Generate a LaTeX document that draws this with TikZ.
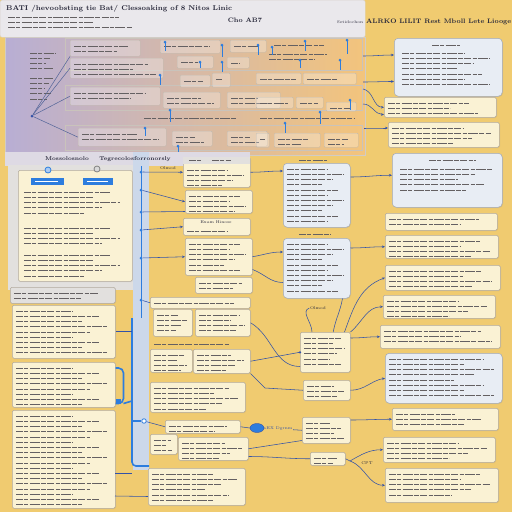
\documentclass[tikz,border=0pt]{standalone}
\usetikzlibrary{shapes.geometric, arrows.meta, positioning, calc, shadows}

\definecolor{bgyellow}{RGB}{240,203,112}
\definecolor{cream}{RGB}{250,242,212}
\definecolor{paleblue}{RGB}{232,237,244}
\definecolor{palegray}{RGB}{160,168,182}
\definecolor{framegray}{RGB}{178,170,158}
\definecolor{cardgray}{RGB}{226,224,222}
\definecolor{headgray}{RGB}{234,232,236}
\definecolor{stripgray}{RGB}{222,218,228}
\definecolor{inkgray}{RGB}{100,96,98}
\definecolor{headink}{RGB}{40,40,58}
\definecolor{inkblue}{RGB}{50,82,168}
\definecolor{brightblue}{RGB}{45,125,222}
\definecolor{barblue}{RGB}{204,216,234}
\definecolor{panelpurple}{RGB}{184,174,212}
\definecolor{panelorange}{RGB}{243,196,124}
\tikzstyle{wirearrow} = [draw=inkblue, line width=0.55pt, -{Stealth[length=3pt,width=2.6pt]}]

% card with fake text lines: [style]{name}{x}{y}{w}{h}{lines}
\newcommand{\card}[7][card]{%
  \node[#1, minimum width=#5, minimum height=#6, anchor=north west] (#2) at (#3,#4) {};
  \foreach \idx in {1,...,#7} {
    \pgfmathsetmacro{\lw}{(#5-8)*(0.6+0.09*mod(\idx*3+#3,5))}
    \draw[ink] ($(#2.north west)+(4,1+5.2*\idx)$) -- ++(\lw,0);
  }%
}

\begin{document}
\begin{tikzpicture}[
    x=1pt, y=-1pt,
    card/.style={draw=framegray, fill=cream, rounded corners=1.5pt, line width=0.5pt, inner sep=0pt,
                 drop shadow={opacity=0.15, shadow xshift=0.8pt, shadow yshift=-0.8pt}},
    pale/.style={card, fill=paleblue, draw=palegray, rounded corners=4pt},
    gcard/.style={card, fill=cardgray},
    pcard/.style={draw=framegray!80, fill=white, fill opacity=0.28, rounded corners=1pt, line width=0.4pt, inner sep=0pt},
    frame/.style={draw=framegray!70, line width=0.4pt, inner sep=0pt},
    ghost/.style={inner sep=0pt},
    ink/.style={line width=0.95pt, draw=inkgray, dash pattern=on 7pt off 1.3pt on 4pt off 1.3pt on 10pt off 1.3pt on 5pt off 1.3pt},
    wire/.style={draw=inkblue, line width=0.55pt},
    fanline/.style={draw=inkblue!60!gray, line width=0.5pt},
    thickwire/.style={draw=brightblue, line width=1.6pt},
    pin/.style={draw=brightblue, line width=0.8pt},
    dot/.style={circle, fill=brightblue, inner sep=0pt, minimum size=3pt},
    ring/.style={circle, draw=brightblue, fill=white, line width=0.8pt, inner sep=0pt, minimum size=4.5pt},
    tab/.style={fill=brightblue, inner sep=0pt, minimum width=33, minimum height=7},
    blob/.style={ellipse, fill=brightblue, draw=inkblue, inner sep=0pt, minimum width=14, minimum height=9},
    titletext/.style={font=\fontsize{7}{8}\selectfont\bfseries, text=headink, inner sep=0pt},
    headtext/.style={font=\fontsize{6.5}{7}\selectfont\bfseries, text=headink, inner sep=0pt},
    tinytext/.style={font=\fontsize{4}{4.5}\selectfont, text=headink, inner sep=0.5pt}
]
    \useasboundingbox (0,0) rectangle (512,512);
    \fill[bgyellow] (0,0) rectangle (512,512);

    % Header
    \node[fill=headgray, draw=framegray!50, anchor=north west, minimum width=365, minimum height=37,
          inner sep=0pt, rounded corners=2pt] (header) at (0,0) {};
    \node[titletext, anchor=west] (title) at (6,8.5) {BATI /hevoobsting tie Bat/ Clessoaking of 8 Nitos Linic};
    \card[ghost]{hsub}{4}{11}{150}{20}{3}
    \node[headtext] (cho) at (245,20) {Cho AB7};
    \node[tinytext] (setid) at (350,22) {Setidochon};
    \node[headtext, anchor=west] (alrko) at (366,22) {ALRKO LILIT Rest Mboll Lete Liooge};

    % Gradient panel
    \node[anchor=north west, minimum width=360, minimum height=118, inner sep=0pt, draw=framegray!60,
          left color=panelpurple, right color=panelorange] (panel) at (5,37) {};
    \node[frame, anchor=north west, minimum width=297, minimum height=32] (row1) at (65,38) {};
    \node[frame, anchor=north west, minimum width=297, minimum height=25] (row2) at (65,85) {};
    \node[frame, anchor=north west, minimum width=297, minimum height=25] (row3) at (65,125) {};
    \card[ghost]{pl1}{26}{47}{34}{24}{4}
    \card[ghost]{pl2}{26}{72}{32}{30}{5}
    \card[pcard]{p1}{70}{40}{70}{16}{2}
    \card[pcard]{p2}{70}{58}{93}{20}{3}
    \card[pcard]{p3}{70}{87}{90}{18}{2}
    \card[ghost]{p4}{140}{112}{115}{9}{1}
    \card[pcard]{p5}{78}{128}{88}{18}{2}
    \card[pcard]{p6}{160}{40}{60}{13}{1}
    \card[pcard]{p7}{177}{56}{36}{12}{1}
    \card[pcard]{p8}{227}{57}{22}{11}{1}
    \card[pcard]{p9}{180}{75}{30}{12}{1}
    \card[pcard]{p10}{212}{73}{18}{14}{1}
    \card[pcard]{p11}{163}{92}{57}{16}{2}
    \card[pcard]{p12}{227}{92}{53}{16}{2}
    \card[pcard]{p13}{172}{131}{40}{15}{2}
    \card[pcard]{p14}{227}{131}{40}{15}{2}
    \card[pcard]{p15}{230}{40}{36}{12}{1}
    \card[ghost]{p16}{270}{39}{65}{8}{1}
    \card[ghost]{p17}{265}{48}{75}{12}{2}
    \card[pcard]{p18}{256}{73}{45}{11}{1}
    \card[pcard]{p19}{303}{73}{53}{11}{1}
    \card[pcard]{p20}{256}{97}{37}{11}{1}
    \card[pcard]{p21}{296}{97}{27}{11}{1}
    \card[pcard]{p22}{326}{102}{30}{9}{1}
    \card[ghost]{p23}{256}{112}{107}{9}{1}
    \card[pcard]{p24}{256}{133}{13}{14}{1}
    \card[pcard]{p25}{274}{133}{46}{14}{2}
    \card[pcard]{p26}{324}{133}{34}{14}{2}

    % Pins in the panel
    \foreach \px/\py/\pl [count=\i] in {165/42/9, 222/45/12, 258/45/10, 272/47/8, 305/41/10, 347/40/14,
        300/60/8, 222/62/10, 160/75/10, 170/110/12, 285/123/10, 320/112/12, 350/100/10, 178/146/10,
        145/128/8, 200/62/6, 340/60/10} {
        \coordinate (pa\i) at (\px,\py);
        \coordinate (pb\i) at (\px,\py+\pl);
        \draw[pin] (pa\i) -- (pb\i);
        \node[dot] (pd\i) at (pa\i) {};
    }
    \node[dot, fill=inkblue] (fan) at (32,116) {};
    \foreach \t in {p1.south west, p2.west, p3.west, p5.west}
        \draw[fanline] (fan) -- (\t);

    % Strip under the panel
    \node[fill=stripgray, anchor=north west, minimum width=245, minimum height=14, inner sep=0pt] (strip) at (5,152) {};

    % Left column
    \node[fill=cardgray, anchor=north west, minimum width=127, minimum height=125, inner sep=0pt] (lgray) at (8,165) {};
    \node[card, anchor=north west, minimum width=114, minimum height=111] (l1) at (18,170) {};
    \node[tab] (tab1) at (47,181.5) {};
    \node[tab, minimum width=30] (tab2) at (98,181.5) {};
    \draw[white, line width=0.8pt] ($(tab1.west)+(5,0)$) -- ($(tab1.east)+(-6,0)$);
    \draw[white, line width=0.8pt] ($(tab2.west)+(4,0)$) -- ($(tab2.east)+(-5,0)$);
    \node[ring, minimum size=6pt, fill=brightblue!40] (pin1) at (48,170) {};
    \node[ring, minimum size=6pt, draw=gray, fill=gray!30] (pin2) at (97,169) {};
    \card[ghost]{l1a}{20}{186}{108}{28}{5}
    \card[ghost]{l1b}{20}{222}{108}{24}{4}
    \card[ghost]{l1c}{20}{249}{108}{32}{5}
    \card[gcard]{l2}{10}{287}{105}{16}{2}
    \card{l3}{12}{305}{103}{53}{9}
    \card{l4}{12}{362}{103}{45}{8}
    \card{l5}{12}{410}{103}{98}{18}

    % Blue bar and spine
    \node[fill=barblue, anchor=north west, minimum width=16, minimum height=318, inner sep=0pt] (bar) at (133,152) {};
    \coordinate (bt) at (141,166);
    \coordinate (bb) at (141,318);
    \draw[pin] (bt) -- (bb);
    \foreach \y [count=\i] in {172,190,212,230,258,300}
        \node[dot] (b\i) at (141,\y) {};
    \coordinate (s1) at (132,318);
    \coordinate (s3) at (149,466);
    \draw[thickwire, rounded corners=4pt] (s1) |- (s3);
    \draw[thickwire, rounded corners=5pt] ($(l4.north east)+(0,6)$) -| ($(l4.east)+(8,0)$) |- ($(l4.south east)+(0,-4)$);
    \node[fill=brightblue, inner sep=0pt, minimum size=5pt] (sq1) at (118,401) {};
    \draw[thickwire] ($(l4.south east)+(8,-4)$) -- (s1 |- sq1);
    \node[ring] (ring) at (144,421) {};
    \draw[thickwire] (s1 |- ring) -- (ring);
    \draw[wire] (l3.east) -- (s1 |- l3.east);
    \coordinate (c1) at (115,473);
    \coordinate (c2) at (115,496);
    \draw[wire, line width=0.9pt] (c1) -- (s1 |- c1);

    % Strip headings
    \node[headtext, font=\fontsize{5.5}{6}\selectfont\bfseries] (mosso) at (67,159) {Mossolosnolo};
    \node[headtext, font=\fontsize{5.5}{6}\selectfont\bfseries] (tegre) at (135,159) {Tegrecolosforronorsly};
    \node[tinytext] (olmod1) at (168,168) {Olmod};

    % Middle column
    \node[card, anchor=north west, minimum width=67, minimum height=30] (m1) at (183,157) {};
    \node[fill=cardgray, anchor=north west, minimum width=67, minimum height=7, inner sep=0pt] (m1h) at (183,157) {};
    \card[ghost]{m1ha}{185}{154}{22}{8}{1}
    \card[ghost]{m1hb}{208}{154}{36}{8}{1}
    \card[ghost]{m1t}{183}{164}{67}{23}{4}
    \card{m2}{185}{190}{67}{23}{4}
    \node[card, anchor=north west, minimum width=67, minimum height=17] (m3) at (183,218) {};
    \node[tinytext] (exam) at (216,222.5) {Exam Hinose};
    \card[ghost]{m3t}{183}{225}{67}{10}{1}
    \card{m4}{185}{238}{67}{37}{6}
    \card{m5}{195}{277}{57}{16}{2}
    \card{m10}{150}{297}{100}{11}{1}
    \card{m11}{153}{309}{39}{27}{4}
    \card{m12}{195}{309}{55}{27}{4}
    \card[ghost]{m13}{150}{338}{95}{8}{1}
    \card{m14}{150}{349}{42}{23}{4}
    \card{m15}{193}{349}{57}{24}{4}
    \card{m16}{150}{382}{95}{30}{5}
    \card{m17}{165}{420}{75}{13}{2}
    \card{m18}{150}{434}{27}{20}{3}
    \card{m19}{178}{437}{70}{23}{4}
    \card{m20}{148}{468}{97}{37}{6}

    \card[ghost]{m6h}{295}{154}{40}{8}{1}
    \card[pale]{m6}{283}{163}{67}{64}{11}
    \card[ghost]{m7h}{295}{228}{45}{8}{1}
    \card[pale]{m7}{283}{238}{67}{60}{10}
    \node[tinytext] (olmod2) at (318,308) {Olmod};
    \card{m8}{300}{332}{50}{40}{6}
    \card{m9}{303}{380}{47}{20}{3}
    \card{m21}{302}{417}{48}{26}{4}
    \card{m22}{310}{452}{35}{13}{2}
    \node[blob] (blob) at (257,428) {};

    % Right column
    \node[pale, anchor=north west, minimum width=108, minimum height=58] (r1) at (394,38) {};
    \card[ghost]{r1h}{428}{39}{48}{8}{1}
    \card[ghost]{r1t}{398}{47}{100}{44}{7}
    \card{r2}{384}{97}{112}{20}{3}
    \card{r3}{388}{122}{111}{25}{4}
    \node[pale, anchor=north west, minimum width=110, minimum height=54] (r4) at (392,153) {};
    \card[ghost]{r4h}{425}{154}{62}{8}{1}
    \card[ghost]{r4t}{396}{163}{104}{32}{5}
    \card{r5}{385}{213}{112}{17}{2}
    \card{r6}{385}{235}{113}{23}{4}
    \card{r7}{385}{265}{115}{25}{4}
    \card{r8}{383}{295}{112}{23}{4}
    \card{r9}{380}{325}{120}{23}{3}
    \card[pale]{r10}{385}{353}{117}{50}{8}
    \card{r11}{392}{408}{106}{22}{3}
    \card{r12}{383}{437}{112}{25}{4}
    \card{r13}{385}{468}{113}{34}{5}

    % Panel to right column
    \coordinate (pe1) at (363,56);
    \coordinate (pe2) at (363,82);
    \coordinate (pe3) at (363,89);
    \coordinate (pe4) at (363,104);
    \coordinate (pe5) at (364,128);
    \draw[wirearrow] (pe1) to[out=0,in=180] ($(r1.north west)+(0,17)$);
    \draw[wirearrow] (pe2) to[out=0,in=180] ($(r1.south west)+(0,-15)$);
    \draw[wirearrow] (pe3) to[out=-10,in=180] (r2.west);
    \draw[wirearrow] (pe4) to[out=0,in=180] ($(r2.south west)+(0,-3)$);
    \draw[wirearrow] (pe5) to[out=0,in=180] ($(r3.north west)+(0,6)$);

    % Bar to middle
    \draw[wirearrow] (b1) -- (m1.west);
    \draw[wirearrow] (b2) -- (m2.west);
    \draw[wire] (b3) -- ($(m2.south west)+(0,-2)$);
    \draw[wirearrow] (b4) -- (m3.west);
    \draw[wirearrow] (b5) -- (m4.west);
    \draw[wire] (b6) -- (m10.west);
    \draw[wire] (ring) -- (m17.west);
    \draw[wire] (c2) -- ($(m20.south west)+(0,-9)$);

    % Middle to right
    \draw[wirearrow] (m1.east) to[out=0,in=180] ($(m6.north west)+(0,8)$);
    \draw[wirearrow] (m4.east) to[out=10,in=180] ($(m7.north west)+(0,14)$);
    \draw[wire] ($(m4.south east)+(0,-6)$) to[out=-20,in=180] ($(m7.south west)+(0,-16)$);
    \draw[wirearrow] ($(m6.north east)+(0,14)$) to[out=0,in=180] ($(r4.west)+(0,-5)$);
    \draw[wirearrow] ($(m7.north east)+(0,10)$) to[out=0,in=180] (r6.west);
    \draw[wirearrow] ($(m8.north east)+(-6,0)$) to[out=70,in=200] (r7.west);
    \draw[wirearrow] (m8.north east) to[out=40,in=180] (r8.west);
    \draw[wirearrow] ($(m8.north east)+(0,6)$) to[out=0,in=180] (r9.west);
    \draw[wirearrow] (m9.east) to[out=0,in=190] (r10.west);
    \draw[wirearrow] ($(m21.north east)+(0,3)$) to[out=0,in=180] (r11.west);
    \coordinate (cj) at (350,461);
    \node[tinytext] (cpt) at (367,463) {CPT};
    \draw[wire] (m22.east) -- (cj);
    \draw[wirearrow] (cj) to[out=30,in=180] (r12.west);
    \draw[wirearrow] (cj) to[out=-20,in=180] (r13.west);

    % Middle inner links
    \draw[wire] (olmod2.west) to[out=200,in=90] ($(m8.north west)+(12,0)$);
    \draw[wire] ($(m8.north)+(8,0)$) to[out=80,in=-100] ($(m7.south east)+(-8,0)$);
    \draw[wire] (m15.east) -- (m8.west);
    \node[dot, minimum size=2.5pt, fill=inkblue] (m8in) at (m8.west) {};
    \coordinate (jb) at (265,388);
    \draw[wire] (m15.south east) -- (jb) -- (m9.west);
    \draw[wire] (m12.east) to[out=-30,in=180] ($(m8.south west)+(0,-6)$);
    \draw[wire] (m17.east) -- (blob.west);
    \draw[wire] (blob.east) -- node[pos=0.4, fill=bgyellow, tinytext, text=inkblue] {EX Dgrnm} (m21.west);
    \draw[wire] (m19.east) -- ($(m21.south west)+(0,-3)$);
    \draw[wire] ($(m19.south east)+(0,-4)$) to[out=0,in=180] (m22.west);
\end{tikzpicture}
\end{document}
